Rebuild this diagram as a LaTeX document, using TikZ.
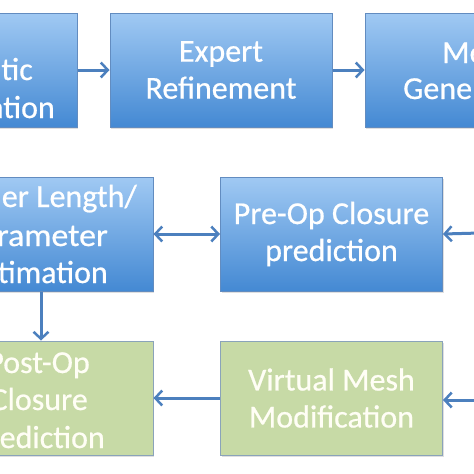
\documentclass[tikz,border=0pt]{standalone}
\usepackage{fontspec}
\setmainfont{Carlito}
\newfontfamily\boxfont[FakeBold=0.6]{Carlito}
\usetikzlibrary{arrows.meta,shadows}
\definecolor{bluetop}{RGB}{160,201,243}
\definecolor{bluebot}{RGB}{68,137,211}
\definecolor{blueline}{RGB}{98,140,192}
\definecolor{greenfill}{RGB}{199,218,166}
\definecolor{greenline}{RGB}{138,163,186}
\definecolor{arrowcol}{RGB}{76,128,190}
\tikzset{
  boxbase/.style={rectangle, draw, line width=1pt, inner sep=0pt,
    text=white, font=\boxfont\fontsize{32}{37}\selectfont, align=center,
    drop shadow={opacity=0.25, shadow xshift=1pt, shadow yshift=-2pt}},
  bluebox/.style={boxbase, draw=blueline, top color=bluetop, bottom color=bluebot},
  greenbox/.style={boxbase, draw=greenline, fill=greenfill, text=white!96!yellow},
  frag/.style={inner sep=0pt, text=white, font=\boxfont\fontsize{32}{37}\selectfont},
  gfrag/.style={frag, text=white!96!yellow},
  arr/.style={draw=arrowcol, line width=3pt, -{Straight Barb[length=7pt,width=15pt,line width=2.5pt]}},
  darr/.style={draw=arrowcol, line width=3pt, {Straight Barb[length=7pt,width=15pt,line width=2.5pt]}-{Straight Barb[length=7pt,width=15pt,line width=2.5pt]}}
}
\begin{document}
\begin{tikzpicture}[x=1pt,y=-1pt]
\useasboundingbox (0,0) rectangle (474,474);
\fill[white] (0,0) rectangle (474,474);
\clip (0,0) rectangle (474,474);
% row 1
\node[bluebox, minimum width=227pt, minimum height=114pt] (seg) at (-36.5,70) {};
\node[bluebox, minimum width=222pt, minimum height=114pt] (exp) at (221,70) {Expert\\Refinement};
\node[bluebox, minimum width=222pt, minimum height=114pt] (mesh) at (476,70) {};
\node[frag, anchor=base east] (segA) at (33,80) {tic};
\node[frag, anchor=base east] (segB) at (55,118) {ation};
\node[frag, anchor=base west] (meshA) at (442,63) {Me};
\node[frag, anchor=base west] (meshB) at (403,99) {Gene};
% row 2
\node[bluebox, minimum width=222pt, minimum height=114pt] (teth) at (42,234) {};
\node[bluebox, minimum width=222pt, minimum height=114pt] (pre) at (331.5,234) {Pre-Op Closure\\prediction};
\node[frag, anchor=base east] (tethA) at (137,207) {her Length/};
\node[frag, anchor=base east] (tethB) at (108,246) {\scalebox{1.06}[1]{arameter}};
\node[frag, anchor=base east] (tethC) at (108,283) {timation};
% row 3
\node[greenbox, minimum width=222pt, minimum height=114pt] (post) at (42,398) {};
\node[greenbox, minimum width=222pt, minimum height=114pt] (virt) at (331.5,398) {Virtual Mesh\\Modification};
\node[gfrag, anchor=base east] (postA) at (90,373) {Post-Op};
\node[gfrag, anchor=base east] (postB) at (88,410) {Closure};
\node[gfrag, anchor=base east] (postC) at (105,448) {rediction};
% connectors
\coordinate (vx) at (41,0);
\coordinate (r2) at (480,233);
\coordinate (r3) at (480,400);
\draw[arr] (seg.east) -- (exp.west);
\draw[arr] (exp.east) -- (mesh.west);
\draw[darr] (teth.east) -- (pre.west);
\draw[arr] (r2) -- (pre.east);
\draw[arr] (virt.west) -- (post.east);
\draw[arr] (r3) -- (r3 -| virt.east);
\draw[arr] (teth.south -| vx) -- (post.north -| vx);
\end{tikzpicture}
\end{document}
